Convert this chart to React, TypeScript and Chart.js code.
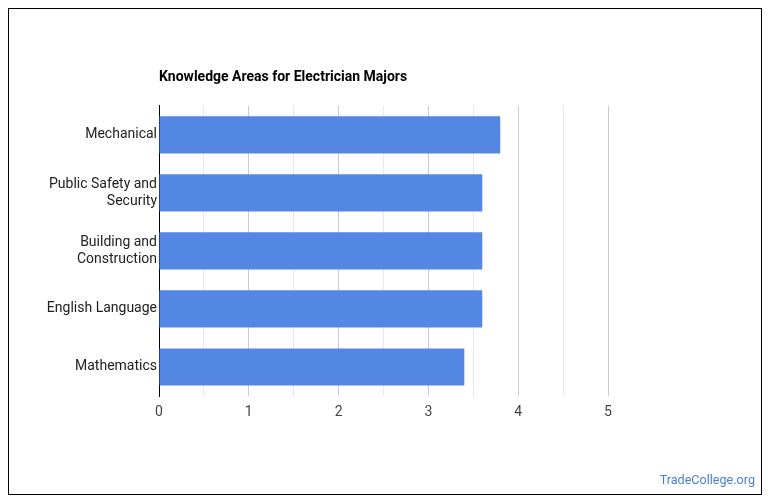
import React, { useEffect, useRef } from "react";
import { Chart, registerables } from "chart.js";

Chart.register(...registerables);

const categories: (string | string[])[] = [
  "Mechanical",
  ["Public Safety and", "Security"],
  ["Building and", "Construction"],
  "English Language",
  "Mathematics",
];
const values: number[] = [3.8, 3.6, 3.6, 3.6, 3.4];
const xTickLabels: string[] = ["0", "1", "2", "3", "4", "5"];
const titleText = "Knowledge Areas for Electrician Majors";
const watermark = "TradeCollege.org";

export default function App() {
  const ref = useRef<HTMLCanvasElement | null>(null);

  useEffect(() => {
    if (!ref.current) return;
    const chart = new Chart(ref.current, {
      type: "bar",
      data: {
        labels: categories,
        datasets: [
          {
            data: values,
            backgroundColor: "#5486e4",
            borderWidth: 0,
            barPercentage: 0.64,
            categoryPercentage: 1,
          },
        ],
      },
      options: {
        indexAxis: "y",
        animation: false,
        responsive: false,
        maintainAspectRatio: false,
        layout: { padding: { top: 60, right: 153, bottom: 68, left: 0 } },
        plugins: {
          legend: { display: false },
          tooltip: { enabled: false },
          title: {
            display: true,
            text: titleText,
            align: "start",
            fullSize: false,
            color: "#000",
            font: { family: "Roboto", size: 14, weight: "bold" },
            padding: { top: 0, bottom: 20 },
          },
        },
        scales: {
          x: {
            min: 0,
            max: 5,
            ticks: {
              stepSize: 0.5,
              autoSkip: false,
              maxRotation: 0,
              padding: 8,
              color: "#444",
              font: { family: "Roboto", size: 14 },
              callback: (v: any) => {
                const n = Number(v);
                return Number.isInteger(n) ? xTickLabels[n] : "";
              },
            },
            grid: {
              drawTicks: false,
              color: (ctx: any) =>
                Number.isInteger(ctx.tick?.value) ? "#cccccc" : "#e8e8e8",
            },
            border: { display: false },
            afterFit: (s: any) => {
              s.height = 30;
            },
          },
          y: {
            ticks: {
              padding: 2,
              color: "#222",
              font: { family: "Roboto", size: 14 },
            },
            grid: { display: false, drawTicks: false },
            border: { display: true, color: "#000", width: 1 },
            afterFit: (s: any) => {
              s.width = 150;
            },
          },
        },
      },
    });
    return () => chart.destroy();
  }, []);

  return (
    <div
      style={{
        position: "relative",
        width: 752,
        height: 485,
        border: "1px solid #000",
        background: "#fff",
      }}
    >
      <canvas ref={ref} width={752} height={485} style={{ display: "block" }} />
      <div
        style={{
          position: "absolute",
          right: 6,
          bottom: 6,
          fontFamily: "Roboto",
          fontSize: 12.6,
          color: "#4a7fd6",
          lineHeight: "16px",
        }}
      >
        {watermark}
      </div>
    </div>
  );
}
